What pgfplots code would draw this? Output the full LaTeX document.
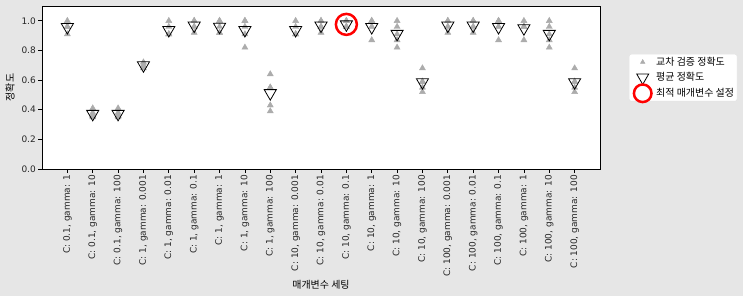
\documentclass[border=0pt]{standalone}
\usepackage{fontspec}
\setmainfont{DejaVu Sans}
\newfontfamily\kr{Noto Sans CJK KR}
\usepackage{pgfplots}
\pgfplotsset{compat=1.18}
\usepackage{pgfplotstable}
\definecolor{bg}{RGB}{230,230,230}
\definecolor{fold}{RGB}{172,172,172}

\pgfplotstableread{
x y
0 1.00
0 0.96
0 0.96
0 0.96
0 0.91
1 0.41
1 0.38
1 0.36
1 0.36
1 0.35
2 0.41
2 0.38
2 0.36
2 0.36
2 0.35
3 0.72
3 0.70
3 0.70
3 0.70
3 0.68
4 1.00
4 0.96
4 0.91
4 0.91
4 0.91
5 1.00
5 1.00
5 0.96
5 0.96
5 0.92
6 1.00
6 1.00
6 0.96
6 0.92
6 0.92
7 1.00
7 1.00
7 0.96
7 0.91
7 0.82
8 0.64
8 0.55
8 0.55
8 0.43
8 0.39
9 1.00
9 0.96
9 0.91
9 0.91
9 0.91
10 1.00
10 1.00
10 0.96
10 0.96
10 0.92
11 1.00
11 1.00
11 0.96
11 0.96
11 0.96
12 1.00
12 1.00
12 0.96
12 0.96
12 0.87
13 1.00
13 0.96
13 0.91
13 0.87
13 0.82
14 0.68
14 0.59
14 0.59
14 0.55
14 0.52
15 1.00
15 1.00
15 0.96
15 0.96
15 0.92
16 1.00
16 1.00
16 0.96
16 0.96
16 0.92
17 1.00
17 1.00
17 0.96
17 0.96
17 0.87
18 1.00
18 0.96
18 0.96
18 0.96
18 0.87
19 1.00
19 0.96
19 0.91
19 0.87
19 0.82
20 0.68
20 0.59
20 0.59
20 0.55
20 0.52
}\folds

\pgfplotstableread{
x y
0 0.958
1 0.372
2 0.372
3 0.700
4 0.938
5 0.968
6 0.960
7 0.938
8 0.512
9 0.938
10 0.968
11 0.976
12 0.958
13 0.912
14 0.586
15 0.968
16 0.968
17 0.958
18 0.950
19 0.912
20 0.586
}\means

\begin{document}
\begin{tikzpicture}
\useasboundingbox[fill=bg] (-42bp,-127bp) rectangle (701bp,169bp);
\begin{axis}[
  at={(0,0)}, anchor=south west,
  width=558bp, height=163bp, scale only axis,
  xmin=-1, xmax=21, ymin=0, ymax=1.1,
  axis background/.style={fill=white},
  axis line style={black, line width=0.8bp},
  xtick={0,...,20},
  xticklabels={{C: 0.1, gamma: 1},{C: 0.1, gamma: 10},{C: 0.1, gamma: 100},
    {C: 1, gamma: 0.001},{C: 1, gamma: 0.01},{C: 1, gamma: 0.1},{C: 1, gamma: 1},
    {C: 1, gamma: 10},{C: 1, gamma: 100},{C: 10, gamma: 0.001},{C: 10, gamma: 0.01},
    {C: 10, gamma: 0.1},{C: 10, gamma: 1},{C: 10, gamma: 10},{C: 10, gamma: 100},
    {C: 100, gamma: 0.001},{C: 100, gamma: 0.01},{C: 100, gamma: 0.1},
    {C: 100, gamma: 1},{C: 100, gamma: 10},{C: 100, gamma: 100}},
  xticklabel style={rotate=90, anchor=east, font=\fontsize{9}{10}\selectfont, text=black!85, inner sep=2.5bp},
  ytick={0,0.2,0.4,0.6,0.8,1.0},
  yticklabel style={/pgf/number format/.cd, fixed, fixed zerofill, precision=1, assume math mode=true, /tikz/.cd, font=\fontsize{9}{10}\selectfont, text=black!85, inner sep=2.5bp},
  tick align=outside, tick pos=left,
  major tick length=3.5bp,
  tick style={black, line width=0.8bp},
  xlabel={\kr 매개변수 세팅},
  ylabel={\kr 정확도},
  xlabel style={at={(axis description cs:0.5,-0.712)}, anchor=center, font=\kr\fontsize{10}{11}\selectfont},
  ylabel style={at={(axis description cs:-0.057,0.5)}, anchor=center, font=\kr\fontsize{10}{11}\selectfont},
  legend style={at={(1.052,0.7055)}, anchor=north west, draw=black!12, fill=white,
    rounded corners=2bp, font=\kr\fontsize{10}{11}\selectfont, row sep=2.5bp,
    inner sep=1.5bp, nodes={inner sep=1.5bp}},
  legend cell align=left,
]
\addplot[only marks, mark=triangle*, mark size=3.5bp, fold, mark options={draw=fold, fill=fold},
  legend image code/.code={\path[draw=none, fill=none] (0,-5bp) rectangle (24bp,5bp); \draw[fold, fill=fold] plot[mark=triangle*, mark size=2.6bp] coordinates {(12bp,0)};}] table[x=x, y=y] {\folds};
\addlegendentry{교차 검증 정확도}
\addplot[only marks, mark=triangle, mark size=7bp, black, mark options={rotate=180, line width=0.8bp, fill=none},
  legend image code/.code={\path[draw=none, fill=none] (0,-5bp) rectangle (24bp,5bp); \draw[black, line width=0.8bp] plot[mark=triangle, mark size=7bp, mark options={rotate=180}] coordinates {(12bp,0)};}] table[x=x, y=y] {\means};
\addlegendentry{평균 정확도}
\addplot[only marks, mark=o, mark size=10.5bp, red, mark options={line width=2.5bp},
  legend image code/.code={\path[draw=none, fill=none] (0,-5bp) rectangle (24bp,5bp); \draw[red, line width=2.5bp, overlay] (12bp,0) circle (8.8bp);}] coordinates {(11,0.976)};
\addlegendentry{최적 매개변수 설정}
\end{axis}
\end{tikzpicture}
\end{document}
